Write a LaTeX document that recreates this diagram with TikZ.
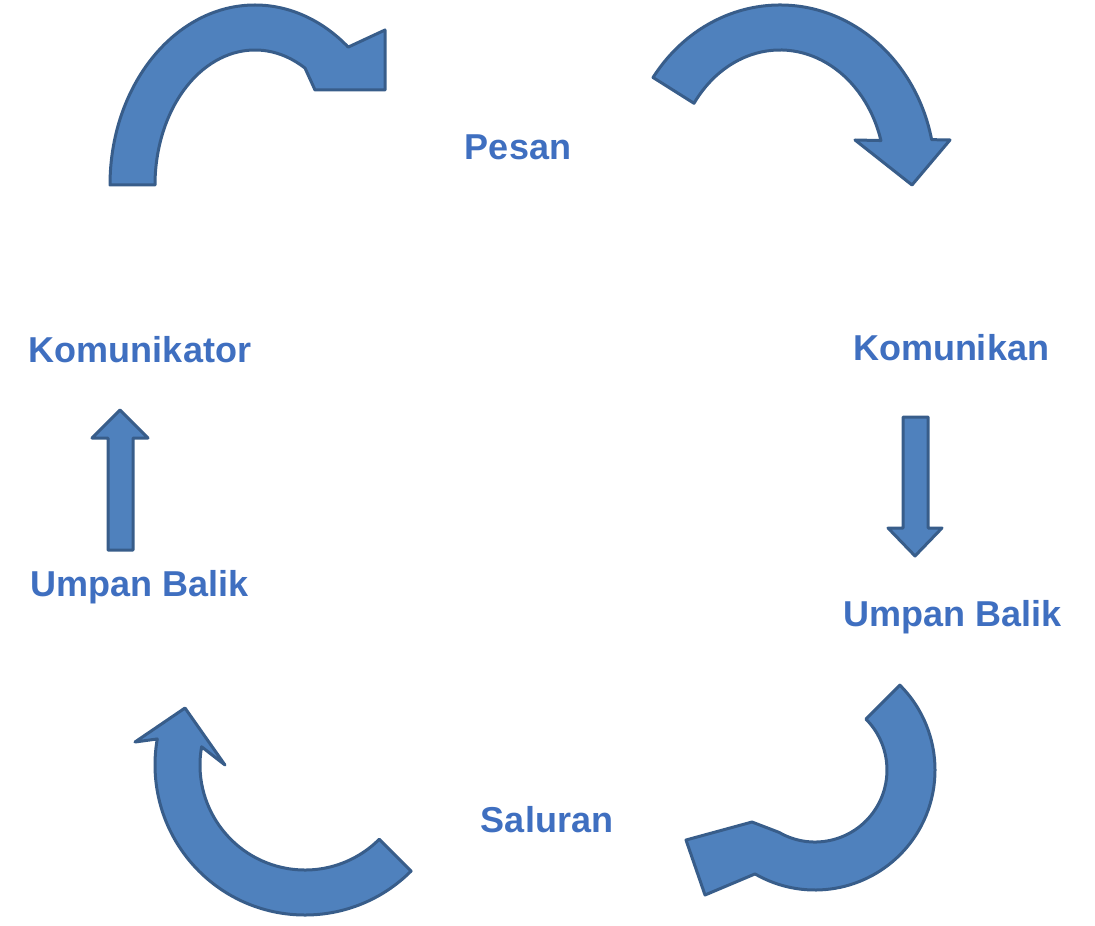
\documentclass[tikz,border=0pt]{standalone}
\usepackage{fontspec}
\setmainfont{Liberation Sans}
\usetikzlibrary{positioning}
\definecolor{arrowfill}{HTML}{4F81BD}
\definecolor{arrowline}{HTML}{385D8A}
\definecolor{labelblue}{HTML}{3F6FC0}
\tikzset{
  arrowbody/.style={fill=arrowfill, draw=arrowline, line width=1.5pt, line join=round},
  lbl/.style={font=\fontsize{18}{22}\selectfont\bfseries, text=labelblue}
}
\begin{document}
\begin{tikzpicture}[x=0.5pt,y=-0.5pt]
      \useasboundingbox (0,0) rectangle (1095,925);

      % curved arrows
      \draw[arrowbody] (110,185) arc[start angle=180, end angle=310, x radius=145, y radius=180]
            -- (385,30) -- (385,90) -- (315,90)
            -- ([shift={(255,185)}]300:100 and 135) arc[start angle=300, end angle=180, x radius=100, y radius=135] -- cycle;
      \draw[arrowbody] ([shift={(780,175)}]215:155 and 170) arc[start angle=215, end angle=348, x radius=155, y radius=170]
            -- (950,140) -- (912,185) -- (855,140)
            -- ([shift={(780,175)}]344:105 and 125) arc[start angle=344, end angle=215, x radius=105, y radius=125] -- cycle;
      \draw[arrowbody] ([shift={(815,770)}]-45:120) arc[start angle=-45, end angle=120, radius=120]
            -- (705,895) -- (686,840) -- (752,822)
            -- ([shift={(815,770)}]120:72) arc[start angle=120, end angle=-45, radius=72] -- cycle;
      \draw[arrowbody] ([shift={(305,765)}]45:150) arc[start angle=45, end angle=190, radius=150]
            -- (135,742) -- (185,708) -- (225,765)
            -- ([shift={(305,765)}]190:105) arc[start angle=190, end angle=45, radius=105] -- cycle;

      % straight arrows
      \draw[arrowbody] (108,550) -- (108,438) -- (92,438) -- (120,410)
            -- (148,438) -- (133,438) -- (133,550) -- cycle;
      \draw[arrowbody] (903,417) -- (903,528) -- (888,528) -- (915,556)
            -- (942,528) -- (928,528) -- (928,417) -- cycle;

      \node[lbl] (pesan) at (518,147) {Pesan};
      \node[lbl] (komunikator) at (140,350) {Komunikator};
      \node[lbl] (komunikan) at (951,348) {Komunikan};
      \node[lbl] (balikkiri) at (140,587) {Umpan Balik};
      \node[lbl] (balikkanan) at (953,617) {Umpan Balik};
      \node[lbl] (saluran) at (547,820) {Saluran};
\end{tikzpicture}
\end{document}
